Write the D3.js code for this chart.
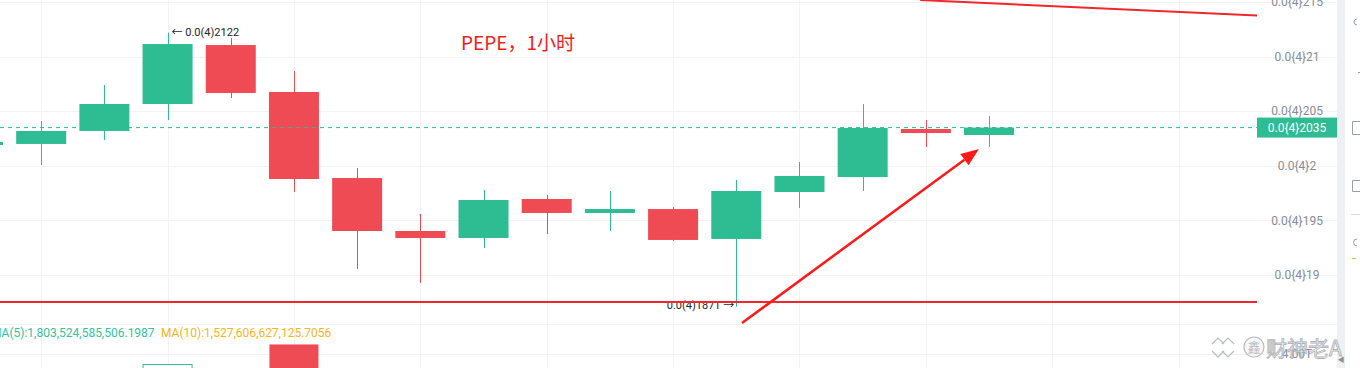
<!DOCTYPE html>
<html>
<head>
    <meta charset="utf-8">
    <title>PEPE 1h</title>
    <script src="https://d3js.org/d3.v7.min.js"></script>
    <style>
        body { margin: 0; background: #fff; }
        svg { display: block; font-family: Roboto, "Noto Sans CJK SC", sans-serif; }
    </style>
</head>
<body>
    <div id="chart"></div>

    <script type="text/javascript">
        // candle data (price in units of 0.000001, i.e. 2.035 -> 0.0{4}2035)
        var candleIndex = [0, 1, 2, 3, 4, 5, 6, 7, 8, 9, 10, 11, 12, 13, 14, 15, 16];
        var opens  = [2.0190, 2.0200, 2.0319, 2.0566, 2.1106, 2.0676, 1.9888, 1.9403, 1.9339, 1.9696, 1.9568, 1.9604, 1.9330, 1.9760, 1.9897, 2.0337, 2.0282];
        var highs  = [2.0230, 2.0410, 2.0740, 2.1220, 2.1170, 2.0868, 1.9980, 1.9559, 1.9778, 1.9733, 1.9769, 1.9623, 1.9870, 2.0035, 2.0566, 2.0419, 2.0456];
        var lows   = [2.0150, 2.0007, 2.0236, 2.0419, 2.0621, 1.9760, 1.9055, 1.8927, 1.9247, 1.9375, 1.9403, 1.9311, 1.8710, 1.9614, 1.9769, 2.0172, 2.0172];
        var closes = [2.0218, 2.0319, 2.0566, 2.1115, 2.0667, 1.9879, 1.9403, 1.9339, 1.9687, 1.9568, 1.9604, 1.9321, 1.9769, 1.9907, 2.0346, 2.0300, 2.0350];
        // volume in trillions
        var volumes = [1.5, 1.4, 2.2, 3.33, 2.8, 4.67, 2.9, 1.6, 1.3, 1.1, 0.96, 1.3, 2.9, 1.3, 2.6, 1.2, 1.02];

        var priceTicks = [1.9, 1.95, 2.0, 2.05, 2.1, 2.15];
        var volumeTicks = [4];
        var maLabels = ["MA(5):1,803,524,585,506.1987", "MA(10):1,527,606,627,125.7056"];
        var title = "PEPE，1小时";
        var watermark = "财神老A";

        // drawings: [candle index, price]
        var supportLine = [[-1, 1.8753], [21, 1.8753]];
        var trendLine = [[14.91, 2.1518], [20.26, 2.1375]];
        var arrowLine = [[12.09, 1.856], [15.84, 2.0154]];

        var W = 1360, H = 368;
        var plotRight = 1257, axisRight = 1337;
        var green = "#2ebd93", red = "#ef4b55";

        var x = d3.scaleLinear().domain([0, 20]).range([-22, -22 + 20 * 63.19]);
        var y = d3.scaleLinear().domain([1.9, 2.15]).range([275, 2]);
        var yv = d3.scaleLinear().domain([0, 4]).range([414, 354]);

        var fmt = function(v, open, close) {
            var s = (+v.toFixed(4)).toString().replace(".", "");
            return "0.0" + open + "4" + close + s;
        };

        var svg = d3.select("#chart").append("svg")
            .attr("width", W).attr("height", H);

        var defs = svg.append("defs");
        defs.append("clipPath").attr("id", "clipPrice")
            .append("rect").attr("x", 0).attr("y", 0).attr("width", plotRight).attr("height", 323);
        defs.append("clipPath").attr("id", "clipVol")
            .append("rect").attr("x", 0).attr("y", 324).attr("width", plotRight).attr("height", H - 324);

        // grid
        var grid = svg.append("g").attr("stroke", "#f3f3f5").attr("stroke-width", 1);
        grid.selectAll("line.h").data(priceTicks).enter().append("line")
            .attr("x1", 0).attr("x2", axisRight)
            .attr("y1", function(d) { return Math.round(y(d)) + 0.5; })
            .attr("y2", function(d) { return Math.round(y(d)) + 0.5; });
        grid.selectAll("line.v").data(d3.range(1, 20, 2)).enter().append("line")
            .attr("x1", function(d) { return Math.round(x(d)) + 0.5; })
            .attr("x2", function(d) { return Math.round(x(d)) + 0.5; })
            .attr("y1", 0).attr("y2", H);
        grid.append("line").attr("x1", 0).attr("x2", axisRight).attr("y1", 324.5).attr("y2", 324.5);
        grid.selectAll("line.vt").data(volumeTicks).enter().append("line")
            .attr("x1", 0).attr("x2", axisRight)
            .attr("y1", function(d) { return Math.round(yv(d)) + 0.5; })
            .attr("y2", function(d) { return Math.round(yv(d)) + 0.5; });

        // candles
        var pg = svg.append("g").attr("clip-path", "url(#clipPrice)");
        var colorFn = function(i) { return closes[i] >= opens[i] ? green : red; };

        pg.selectAll("line.wick").data(candleIndex).enter().append("line")
            .attr("x1", function(i) { return Math.round(x(i)) + 0.5; })
            .attr("x2", function(i) { return Math.round(x(i)) + 0.5; })
            .attr("y1", function(i) { return y(highs[i]); })
            .attr("y2", function(i) { return y(lows[i]); })
            .attr("stroke", colorFn).attr("stroke-width", 1);

        pg.selectAll("rect.body").data(candleIndex).enter().append("rect")
            .attr("x", function(i) { return x(i) - 25; })
            .attr("width", 50)
            .attr("y", function(i) { return y(Math.max(opens[i], closes[i])); })
            .attr("height", function(i) { return Math.max(2, Math.abs(y(opens[i]) - y(closes[i]))); })
            .attr("fill", colorFn);

        // current price dashed line
        var last = closes[closes.length - 1];
        pg.append("line")
            .attr("x1", 0).attr("x2", plotRight)
            .attr("y1", y(last)).attr("y2", y(last))
            .attr("stroke", green).attr("stroke-width", 1).attr("stroke-dasharray", "4,4");

        // high / low markers
        var hiIdx = d3.maxIndex(highs), loIdx = d3.minIndex(lows);
        pg.append("text")
            .attr("x", x(hiIdx) + 4).attr("y", y(highs[hiIdx]))
            .attr("dy", "0.35em").attr("font-size", 11).attr("fill", "#1e2530")
            .text("\u2190 " + fmt(highs[hiIdx], "(", ")"));
        pg.append("text")
            .attr("x", x(loIdx) - 2).attr("y", y(lows[loIdx]) - 2)
            .attr("dy", "0.35em").attr("text-anchor", "end").attr("font-size", 11).attr("fill", "#1e2530")
            .text(fmt(lows[loIdx], "(", ")") + " \u2192");

        // drawings
        var lineGen = d3.line().x(function(d) { return x(d[0]); }).y(function(d) { return y(d[1]); });
        pg.append("path").datum(supportLine).attr("d", lineGen)
            .attr("fill", "none").attr("stroke", "#f2262b").attr("stroke-width", 2);
        pg.append("path").datum(trendLine).attr("d", lineGen)
            .attr("fill", "none").attr("stroke", "#f2262b").attr("stroke-width", 2);

        var ax0 = x(arrowLine[0][0]), ay0 = y(arrowLine[0][1]);
        var ax1 = x(arrowLine[1][0]), ay1 = y(arrowLine[1][1]);
        var ang = Math.atan2(ay1 - ay0, ax1 - ax0);
        var headLen = 18, headW = 7;
        var bx = ax1 - headLen * Math.cos(ang), by = ay1 - headLen * Math.sin(ang);
        svg.append("line")
            .attr("x1", ax0).attr("y1", ay0).attr("x2", bx).attr("y2", by)
            .attr("stroke", "#ff1a1a").attr("stroke-width", 2.5);
        svg.append("path")
            .attr("d", "M" + ax1 + "," + ay1 +
                "L" + (bx + headW * Math.sin(ang)) + "," + (by - headW * Math.cos(ang)) +
                "L" + (bx - headW * Math.sin(ang)) + "," + (by + headW * Math.cos(ang)) + "Z")
            .attr("fill", "#ff1a1a");

        // title
        svg.append("text")
            .attr("x", 461).attr("y", 50)
            .attr("font-size", 19).attr("fill", "#f21d1d")
            .attr("font-family", "'Noto Sans CJK SC', Roboto, sans-serif")
            .text(title);

        // volume pane
        var vg = svg.append("g").attr("clip-path", "url(#clipVol)");
        vg.selectAll("rect.vol").data(candleIndex).enter().append("rect")
            .attr("x", function(i) { return x(i) - 24.5; })
            .attr("width", 49)
            .attr("y", function(i) { return yv(volumes[i]) + 0.5; })
            .attr("height", function(i) { return yv(0) - yv(volumes[i]); })
            .attr("fill", function(i) { return closes[i] >= opens[i] ? "#fff" : red; })
            .attr("stroke", function(i) { return closes[i] >= opens[i] ? green : "none"; })
            .attr("stroke-width", 1);

        svg.append("text").attr("x", -9).attr("y", 337)
            .attr("font-size", 12).attr("fill", "#35c2a0").text(maLabels[0]);
        svg.append("text").attr("x", 161).attr("y", 337)
            .attr("font-size", 12).attr("fill", "#f6b617").text(maLabels[1]);

        // price axis
        var axis = svg.append("g");
        axis.selectAll("text.tick").data(priceTicks).enter().append("text")
            .attr("x", 1297).attr("y", function(d) { return y(d); })
            .attr("dy", "0.35em").attr("text-anchor", "middle")
            .attr("font-size", 12).attr("fill", "#868c98")
            .text(function(d) { return fmt(d, "{", "}"); });
        axis.selectAll("text.vtick").data(volumeTicks).enter().append("text")
            .attr("x", 1297).attr("y", function(d) { return yv(d); })
            .attr("dy", "0.35em").attr("text-anchor", "middle")
            .attr("font-size", 12).attr("fill", "#868c98")
            .text(function(d) { return d.toFixed(2) + "T"; });

        // current price label
        axis.append("rect")
            .attr("x", plotRight).attr("y", y(last) - 10)
            .attr("width", axisRight - plotRight).attr("height", 20)
            .attr("fill", green);
        axis.append("text")
            .attr("x", 1297).attr("y", y(last))
            .attr("dy", "0.35em").attr("text-anchor", "middle")
            .attr("font-size", 12).attr("fill", "#fff")
            .text(fmt(last, "{", "}"));

        // scrollbar strip and side panel
        svg.append("rect").attr("x", axisRight).attr("y", 0).attr("width", 8).attr("height", H).attr("fill", "#eef0f4");
        svg.append("text").attr("x", 1341).attr("y", 362).attr("text-anchor", "middle")
            .attr("font-size", 7).attr("fill", "#8a8f99").text("\u25C0");
        var side = svg.append("g").attr("fill", "none").attr("stroke", "#9aa0aa").attr("stroke-width", 1);
        side.append("path").attr("d", "M1357,19 A3,3 0 0 0 1357,25");
        side.append("line").attr("x1", 1358).attr("x2", 1360).attr("y1", 72.5).attr("y2", 72.5);
        side.append("path").attr("d", "M1360,121.5 H1352.5 V134.5 H1360");
        side.append("path").attr("d", "M1360,180.5 H1352.5 V191.5 H1360");
        side.append("line").attr("x1", 1351).attr("x2", 1360).attr("y1", 214.5).attr("y2", 214.5).attr("stroke", "#d8dbe0");
        side.append("path").attr("d", "M1357,239 A3,3 0 0 0 1357,246");
        side.append("line").attr("x1", 1352).attr("x2", 1356).attr("y1", 258.5).attr("y2", 258.5).attr("stroke", "#e7b84a");

        // watermark
        var wm = svg.append("g").attr("opacity", 0.8);
        wm.append("path")
            .attr("d", "M1212,344 L1218,338 L1224,344 M1212,351 L1218,357 L1224,351 M1222,344 L1228,338 L1234,344 M1222,351 L1228,357 L1234,351")
            .attr("fill", "none").attr("stroke", "#a8acb3").attr("stroke-width", 1.2);
        wm.append("circle").attr("cx", 1254).attr("cy", 347).attr("r", 10)
            .attr("fill", "#f6f6f6").attr("stroke", "#a8acb3").attr("stroke-width", 1.2);
        wm.append("text").attr("x", 1254).attr("y", 352).attr("text-anchor", "middle")
            .attr("font-size", 13).attr("fill", "#a8acb3")
            .attr("font-family", "'Noto Sans CJK SC', sans-serif").text("鑫");
        wm.append("text").attr("x", 1266).attr("y", 356)
            .attr("font-size", 21).attr("fill", "#f4f4f4")
            .attr("stroke", "#a0a4ab").attr("stroke-width", 0.9)
            .attr("font-family", "'Noto Sans CJK SC', sans-serif")
            .text(watermark);
    </script>
</body>
</html>
